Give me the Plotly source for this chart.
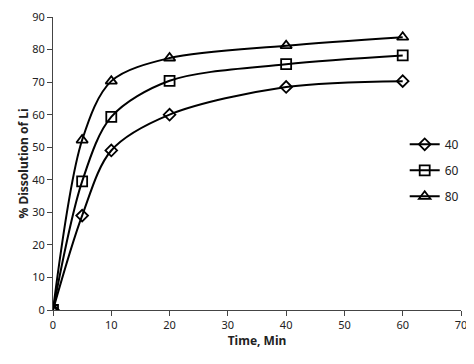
import plotly.graph_objects as go

time_min = [0, 5, 10, 20, 40, 60]
s40 = [0, 29, 49, 60, 68.5, 70.3]
s60 = [0, 39.5, 59.3, 70.4, 75.5, 78.2]
s80 = [0, 52.2, 70.3, 77.4, 81.2, 83.8]
series_names = ["40", "60", "80"]
symbols = ["diamond-open", "square-open", "triangle-up-open"]
sizes = [9, 10, 10]

fig = go.Figure()
for name, ys, sym, sz in zip(series_names, [s40, s60, s80], symbols, sizes):
    fig.add_trace(go.Scatter(
        x=time_min, y=ys, name=name, mode="lines+markers",
        line=dict(color="black", width=2, shape="spline", smoothing=0.9),
        marker=dict(symbol=sym, size=sz, color="black", line=dict(color="black", width=1.8)),
        legendgroup=name,
    ))

font_family = "Noto Sans, Open Sans, sans-serif"
# page body has an 8px default margin, so the figure is sized to fit inside it
fig.update_layout(
    width=466, height=356,
    margin=dict(l=45, r=13, t=9, b=54),
    paper_bgcolor="white", plot_bgcolor="white",
    font=dict(family=font_family, size=11, color="#222"),
    showlegend=True,
    legend=dict(x=0.862, y=0.615, xanchor="left", yanchor="top",
                font=dict(size=12, color="#222"), tracegroupgap=7,
                bgcolor="rgba(0,0,0,0)", itemwidth=30),
    xaxis=dict(range=[0, 70], dtick=10, showline=True, linecolor="#444", linewidth=1,
               ticks="outside", ticklen=5, tickcolor="#444", showgrid=False, zeroline=False,
               automargin=False, ticklabeloverflow="allow",
               title=dict(text="<b>Time, Min</b>", font=dict(size=12, color="#222"), standoff=0)),
    yaxis=dict(range=[0, 90], dtick=10, showline=True, linecolor="#444", linewidth=1,
               ticks="outside", ticklen=5, tickcolor="#444", showgrid=False, zeroline=False,
               automargin=False, ticklabeloverflow="allow",
               title=dict(text="<b>% Dissolution of Li</b>", font=dict(size=12, color="#222"), standoff=0)),
)

fig.write_html("out.html")
